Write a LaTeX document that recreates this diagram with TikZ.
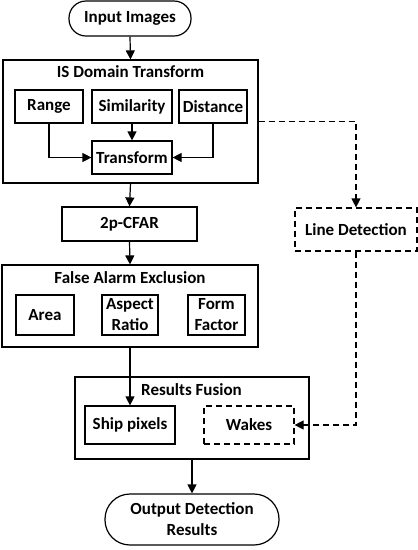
\documentclass[tikz,border=0pt]{standalone}
\usepackage{fontspec}
\setmainfont{Carlito}
\usetikzlibrary{arrows.meta}
\begin{document}
\begin{tikzpicture}[x=1pt,y=-1pt,
  font=\bfseries\fontsize{17}{21}\selectfont,
  box/.style={draw, line width=1.2pt, inner sep=0pt, align=center},
  dbox/.style={box, dash pattern=on 6pt off 4pt},
  term/.style={box, rounded corners=17pt},
  title/.style={inner sep=0pt},
  arr/.style={line width=1.2pt, -{Triangle[length=9pt,width=9pt]}},
  darr/.style={arr, dash pattern=on 6pt off 4pt}]
\useasboundingbox (0,0) rectangle (418,550);
\node[term, minimum width=122pt, minimum height=35pt] (input) at (130,18.5) {Input Images};
\node[box, minimum width=255pt, minimum height=123pt] (is) at (130.5,121.5) {};
\node[title] (istitle) at (130.5,72) {IS Domain Transform};
\node[box, minimum width=68pt, minimum height=33pt] (range) at (49,106.5) {Range};
\node[box, minimum width=80pt, minimum height=33pt] (sim) at (132,106.5) {Similarity};
\node[box, minimum width=68pt, minimum height=33pt] (dist) at (213,106.5) {Distance};
\node[box, minimum width=80pt, minimum height=33pt] (tr) at (132,157.5) {Transform};
\node[box, minimum width=135pt, minimum height=34pt] (cfar) at (129.5,224) {2p-CFAR};
\node[dbox, minimum width=122pt, minimum height=43pt] (ld) at (356,229.5) {Line Detection};
\node[box, minimum width=256pt, minimum height=82pt] (fa) at (130,306) {};
\node[title] (fatitle) at (130,278) {False Alarm Exclusion};
\node[box, minimum width=58pt, minimum height=40pt] (area) at (45,315) {Area};
\node[box, minimum width=56pt, minimum height=40pt] (asp) at (130,315) {Aspect\\Ratio};
\node[box, minimum width=57pt, minimum height=40pt] (form) at (216.5,315) {Form\\Factor};
\node[box, minimum width=234pt, minimum height=82pt] (rf) at (192,418) {};
\node[title] (rftitle) at (191.5,390) {Results Fusion};
\node[box, minimum width=90pt, minimum height=38pt] (ship) at (130,425) {Ship pixels};
\node[dbox, minimum width=90pt, minimum height=38pt] (wakes) at (249,425) {Wakes};
\node[term, rounded corners=25pt, minimum width=174pt, minimum height=51pt] (out) at (192,519.5) {Output Detection\\Results};
\draw[arr] (input.south) -- (is.north);
\draw[arr] (range.south) |- (tr.west);
\draw[arr] (sim.south) -- (tr.north);
\draw[arr] (dist.south) |- (tr.east);
\draw[arr] (is.south) -- (cfar.north);
\draw[arr] (cfar.south) -- (fa.north);
\draw[arr] (fa.south) -- (ship.north);
\draw[darr] (is.east) -| (ld.north);
\draw[darr] (ld.south) |- (wakes.east);
\draw[arr] (rf.south) -- (out.north);
\end{tikzpicture}
\end{document}
